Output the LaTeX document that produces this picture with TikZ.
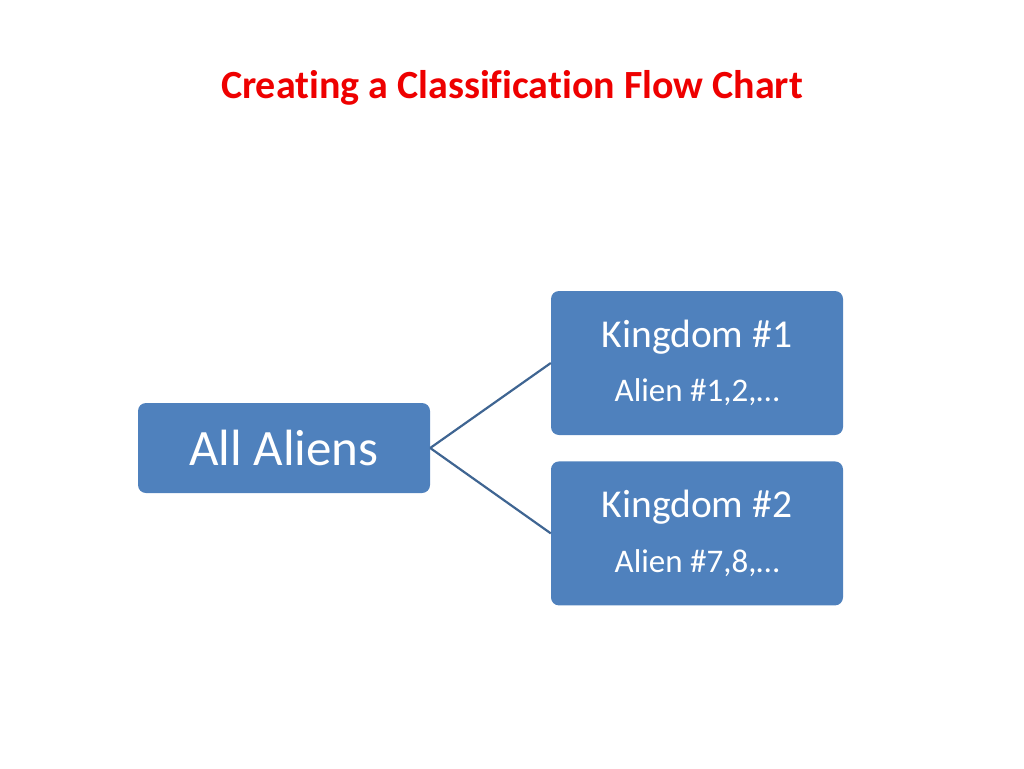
\documentclass[tikz,border=0pt]{standalone}
\usepackage{fontspec}
\setmainfont[Ligatures=NoCommon]{Carlito}
\usetikzlibrary{positioning}
\definecolor{boxblue}{HTML}{4F81BD}
\definecolor{linkblue}{HTML}{3F6592}
\definecolor{titlered}{HTML}{EE0000}
\tikzset{
  box/.style={fill=boxblue,rounded corners=8pt,text=white,align=center,inner sep=0pt,minimum width=292pt},
  link/.style={draw=linkblue,line width=2.2pt},
}
\begin{document}
\begin{tikzpicture}[x=1pt,y=-1pt]
\useasboundingbox (0,0) rectangle (1024,768);
\node[text=titlered,font=\fontsize{40}{48}\selectfont\bfseries] (title) at (512,88) {Creating a Classification Flow Chart};
\node[box,minimum height=90pt,font=\fontsize{51}{60}\selectfont] (all) at (284,448) {All Aliens};
\node[box,minimum height=144pt] (k1) at (697,363) {\fontsize{39.5}{46}\selectfont Kingdom \#1\\[24pt]\fontsize{33}{40}\selectfont Alien \#1,2,…};
\node[box,minimum height=144pt,below=26pt of k1] (k2) {\fontsize{39.5}{46}\selectfont Kingdom \#2\\[24pt]\fontsize{33}{40}\selectfont Alien \#7,8,…};
% connectors
\draw[link] (all.east) -- (k1.west);
\draw[link] (all.east) -- (k2.west);
\end{tikzpicture}
\end{document}
